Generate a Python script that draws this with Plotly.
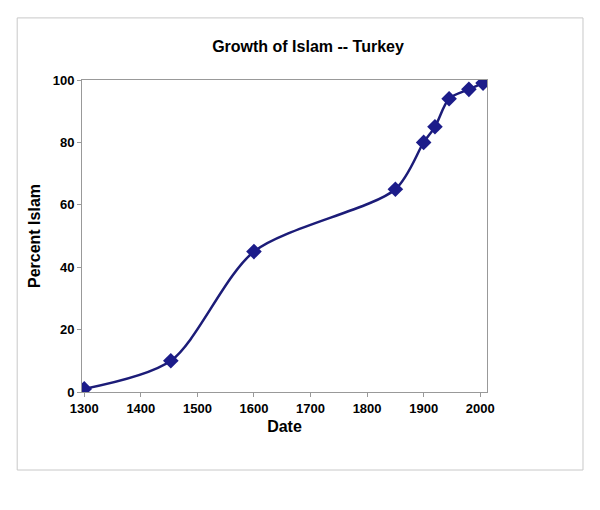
import plotly.graph_objects as go

# data
years = [1300, 1453, 1600, 1850, 1900, 1920, 1945, 1980, 2005]
percent_islam = [1, 10, 45, 65, 80, 85, 94, 97, 99]
x_ticks = [1300, 1400, 1500, 1600, 1700, 1800, 1900, 2000]
y_ticks = [0, 20, 40, 60, 80, 100]

fig = go.Figure()
fig.add_trace(go.Scatter(
    x=years, y=percent_islam, mode='lines+markers',
    line=dict(color='#1c1c78', width=2.5, shape='spline', smoothing=0.8),
    marker=dict(symbol='diamond', size=12, color='#1c1c8a'),
    showlegend=False,
))

fig.update_layout(
    width=600, height=510,
    paper_bgcolor='white', plot_bgcolor='white',
    font=dict(family='Liberation Sans, Arial', color='black', size=13),
    title=dict(text='<b>Growth of Islam -- Turkey</b>', x=0.5, y=0.925,
               xanchor='center', yanchor='middle', font=dict(size=16)),
    margin=dict(l=74, r=121, t=72, b=126),
    shapes=[dict(type='rect', xref='paper', yref='paper',
                 x0=-0.16, x1=1.237, y0=-0.25, y1=1.199,
                 line=dict(color='#c8c8c8', width=1))],
)
fig.update_xaxes(
    range=[1296, 2012], tickvals=x_ticks, showgrid=False,
    showline=True, linecolor='#999', mirror=True, ticks='outside',
    ticklen=4, tickcolor='#999',
    tickfont=dict(family='Liberation Sans, Arial', size=13, weight='bold'),
    title=dict(text='<b>Date</b>', standoff=6),
)
fig.update_yaxes(
    range=[0, 100], tickvals=y_ticks, showgrid=False,
    showline=True, linecolor='#999', mirror=True, ticks='outside',
    ticklen=4, tickcolor='#999',
    tickfont=dict(family='Liberation Sans, Arial', size=13, weight='bold'),
    title=dict(text='<b>Percent Islam</b>', standoff=8),
)

fig.write_html("out.html")
